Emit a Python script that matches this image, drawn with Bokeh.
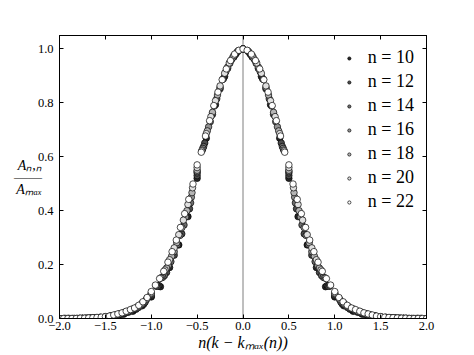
from bokeh.plotting import figure
from bokeh.models import Range1d, Span, LinearAxis, FixedTicker, CustomJSTickFormatter
from bokeh.embed import file_html
from bokeh.resources import INLINE

# ---- data ----
x_ticks = [-2.0, -1.5, -1.0, -0.5, 0.0, 0.5, 1.0, 1.5, 2.0]
y_ticks = [0.0, 0.2, 0.4, 0.6, 0.8, 1.0]

x10 = [-2.0, -1.9, -1.8, -1.7, -1.6, -1.5, -1.4, -1.3, -1.2, -1.1, -1.0, -0.9, -0.8, -0.7, -0.6, -0.5, -0.4, -0.3, -0.2, -0.1,
       0.0, 0.1, 0.2, 0.3, 0.4, 0.5, 0.6, 0.7, 0.8, 0.9, 1.0, 1.1, 1.2, 1.3, 1.4, 1.5, 1.6, 1.7, 1.8, 1.9, 2.0]
y10 = [0.0, 0.0, 0.0, 0.001, 0.002, 0.004, 0.009, 0.016, 0.027, 0.047, 0.080, 0.118, 0.189, 0.273, 0.378, 0.520, 0.669, 0.793, 0.898, 0.970,
       1.000, 0.970, 0.898, 0.793, 0.669, 0.520, 0.378, 0.273, 0.189, 0.118, 0.080, 0.047, 0.027, 0.016, 0.009, 0.004, 0.002, 0.001, 0.0, 0.0, 0.0]

x12 = [-2.0, -1.917, -1.833, -1.75, -1.667, -1.583, -1.5, -1.417, -1.333, -1.25, -1.167, -1.083, -1.0, -0.917, -0.833, -0.75, -0.667, -0.583,
       -0.5, -0.417, -0.333, -0.25, -0.167, -0.083, 0.0, 0.083, 0.167, 0.25, 0.333, 0.417, 0.5, 0.583, 0.667, 0.75, 0.833, 0.917, 1.0,
       1.083, 1.167, 1.25, 1.333, 1.417, 1.5, 1.583, 1.667, 1.75, 1.833, 1.917, 2.0]
y12 = [0.0, 0.0, 0.0, 0.0, 0.001, 0.002, 0.005, 0.009, 0.015, 0.023, 0.034, 0.053, 0.083, 0.122, 0.171, 0.235, 0.314, 0.407, 0.530, 0.651,
       0.757, 0.852, 0.928, 0.979, 1.000, 0.979, 0.928, 0.852, 0.757, 0.651, 0.530, 0.407, 0.314, 0.235, 0.171, 0.122, 0.083, 0.053,
       0.034, 0.023, 0.015, 0.009, 0.005, 0.002, 0.001, 0.0, 0.0, 0.0, 0.0]

x14 = [-2.0, -1.929, -1.857, -1.786, -1.714, -1.643, -1.571, -1.5, -1.429, -1.357, -1.286, -1.214, -1.143, -1.071, -1.0, -0.929, -0.857,
       -0.786, -0.714, -0.643, -0.571, -0.5, -0.429, -0.357, -0.286, -0.214, -0.143, -0.071, 0.0, 0.071, 0.143, 0.214, 0.286, 0.357,
       0.429, 0.5, 0.571, 0.643, 0.714, 0.786, 0.857, 0.929, 1.0, 1.071, 1.143, 1.214, 1.286, 1.357, 1.429, 1.5, 1.571, 1.643, 1.714,
       1.786, 1.857, 1.929, 2.0]
y14 = [0.0, 0.0, 0.0, 0.0, 0.001, 0.002, 0.003, 0.006, 0.009, 0.014, 0.020, 0.029, 0.040, 0.059, 0.086, 0.120, 0.159, 0.211, 0.274,
       0.347, 0.429, 0.540, 0.638, 0.730, 0.815, 0.889, 0.947, 0.985, 1.000, 0.985, 0.947, 0.889, 0.815, 0.730, 0.638, 0.540, 0.429,
       0.347, 0.274, 0.211, 0.159, 0.120, 0.086, 0.059, 0.040, 0.029, 0.020, 0.014, 0.009, 0.006, 0.003, 0.002, 0.001, 0.0, 0.0, 0.0, 0.0]

x16 = [-2.0, -1.938, -1.875, -1.813, -1.75, -1.688, -1.625, -1.563, -1.5, -1.438, -1.375, -1.313, -1.25, -1.188, -1.125, -1.063, -1.0,
       -0.938, -0.875, -0.813, -0.75, -0.688, -0.625, -0.563, -0.5, -0.438, -0.375, -0.313, -0.25, -0.188, -0.125, -0.063, 0.0, 0.063,
       0.125, 0.188, 0.25, 0.313, 0.375, 0.438, 0.5, 0.563, 0.625, 0.688, 0.75, 0.813, 0.875, 0.938, 1.0, 1.063, 1.125, 1.188, 1.25,
       1.313, 1.375, 1.438, 1.5, 1.563, 1.625, 1.688, 1.75, 1.813, 1.875, 1.938, 2.0]
y16 = [0.0, 0.0, 0.0, 0.0, 0.001, 0.001, 0.002, 0.004, 0.006, 0.009, 0.013, 0.019, 0.026, 0.035, 0.046, 0.064, 0.089, 0.120, 0.153,
       0.197, 0.248, 0.308, 0.377, 0.450, 0.545, 0.631, 0.711, 0.788, 0.857, 0.915, 0.960, 0.989, 1.000, 0.989, 0.960, 0.915, 0.857,
       0.788, 0.711, 0.631, 0.545, 0.450, 0.377, 0.308, 0.248, 0.197, 0.153, 0.120, 0.089, 0.064, 0.046, 0.035, 0.026, 0.019, 0.013,
       0.009, 0.006, 0.004, 0.002, 0.001, 0.001, 0.0, 0.0, 0.0, 0.0]

x18 = [-2.0, -1.944, -1.889, -1.833, -1.778, -1.722, -1.667, -1.611, -1.556, -1.5, -1.444, -1.389, -1.333, -1.278, -1.222, -1.167,
       -1.111, -1.056, -1.0, -0.944, -0.889, -0.833, -0.778, -0.722, -0.667, -0.611, -0.556, -0.5, -0.444, -0.389, -0.333, -0.278,
       -0.222, -0.167, -0.111, -0.056, 0.0, 0.056, 0.111, 0.167, 0.222, 0.278, 0.333, 0.389, 0.444, 0.5, 0.556, 0.611, 0.667, 0.722,
       0.778, 0.833, 0.889, 0.944, 1.0, 1.056, 1.111, 1.167, 1.222, 1.278, 1.333, 1.389, 1.444, 1.5, 1.556, 1.611, 1.667, 1.722,
       1.778, 1.833, 1.889, 1.944, 2.0]
y18 = [0.0, 0.0, 0.0, 0.0, 0.001, 0.001, 0.002, 0.003, 0.004, 0.006, 0.009, 0.013, 0.018, 0.024, 0.031, 0.039, 0.052, 0.069, 0.092,
       0.120, 0.151, 0.187, 0.231, 0.281, 0.337, 0.400, 0.467, 0.550, 0.625, 0.696, 0.765, 0.829, 0.887, 0.933, 0.969, 0.991, 1.000,
       0.991, 0.969, 0.933, 0.887, 0.829, 0.765, 0.696, 0.625, 0.550, 0.467, 0.400, 0.337, 0.281, 0.231, 0.187, 0.151, 0.120, 0.092,
       0.069, 0.052, 0.039, 0.031, 0.024, 0.018, 0.013, 0.009, 0.006, 0.004, 0.003, 0.002, 0.001, 0.001, 0.0, 0.0, 0.0, 0.0]

x20 = [-2.0, -1.95, -1.9, -1.85, -1.8, -1.75, -1.7, -1.65, -1.6, -1.55, -1.5, -1.45, -1.4, -1.35, -1.3, -1.25, -1.2, -1.15, -1.1, -1.05,
       -1.0, -0.95, -0.9, -0.85, -0.8, -0.75, -0.7, -0.65, -0.6, -0.55, -0.5, -0.45, -0.4, -0.35, -0.3, -0.25, -0.2, -0.15, -0.1, -0.05,
       0.0, 0.05, 0.1, 0.15, 0.2, 0.25, 0.3, 0.35, 0.4, 0.45, 0.5, 0.55, 0.6, 0.65, 0.7, 0.75, 0.8, 0.85, 0.9, 0.95, 1.0, 1.05, 1.1,
       1.15, 1.2, 1.25, 1.3, 1.35, 1.4, 1.45, 1.5, 1.55, 1.6, 1.65, 1.7, 1.75, 1.8, 1.85, 1.9, 1.95, 2.0]
y20 = [0.0, 0.0, 0.0, 0.0, 0.0, 0.001, 0.001, 0.002, 0.003, 0.004, 0.006, 0.009, 0.012, 0.017, 0.022, 0.028, 0.036, 0.044, 0.057,
       0.073, 0.095, 0.122, 0.150, 0.180, 0.218, 0.262, 0.311, 0.365, 0.423, 0.485, 0.560, 0.622, 0.686, 0.749, 0.808, 0.863, 0.910,
       0.948, 0.976, 0.994, 1.000, 0.994, 0.976, 0.948, 0.910, 0.863, 0.808, 0.749, 0.686, 0.622, 0.560, 0.485, 0.423, 0.365, 0.311,
       0.262, 0.218, 0.180, 0.150, 0.122, 0.095, 0.073, 0.057, 0.044, 0.036, 0.028, 0.022, 0.017, 0.012, 0.009, 0.006, 0.004, 0.003,
       0.002, 0.001, 0.001, 0.0, 0.0, 0.0, 0.0, 0.0]

x22 = [-2.0, -1.955, -1.909, -1.864, -1.818, -1.773, -1.727, -1.682, -1.636, -1.591, -1.545, -1.5, -1.455, -1.409, -1.364, -1.318,
       -1.273, -1.227, -1.182, -1.136, -1.091, -1.045, -1.0, -0.955, -0.909, -0.864, -0.818, -0.773, -0.727, -0.682, -0.636, -0.591,
       -0.545, -0.5, -0.455, -0.409, -0.364, -0.318, -0.273, -0.227, -0.182, -0.136, -0.091, -0.045, 0.0, 0.045, 0.091, 0.136, 0.182,
       0.227, 0.273, 0.318, 0.364, 0.409, 0.455, 0.5, 0.545, 0.591, 0.636, 0.682, 0.727, 0.773, 0.818, 0.864, 0.909, 0.955, 1.0, 1.045,
       1.091, 1.136, 1.182, 1.227, 1.273, 1.318, 1.364, 1.409, 1.455, 1.5, 1.545, 1.591, 1.636, 1.682, 1.727, 1.773, 1.818, 1.864,
       1.909, 1.955, 2.0]
y22 = [0.0, 0.0, 0.0, 0.0, 0.0, 0.001, 0.001, 0.002, 0.003, 0.004, 0.005, 0.007, 0.009, 0.013, 0.017, 0.021, 0.027, 0.033, 0.039,
       0.049, 0.062, 0.078, 0.100, 0.124, 0.148, 0.175, 0.209, 0.248, 0.291, 0.338, 0.389, 0.442, 0.499, 0.570, 0.617, 0.677, 0.734,
       0.790, 0.840, 0.886, 0.926, 0.957, 0.981, 0.995, 1.000, 0.995, 0.981, 0.957, 0.926, 0.886, 0.840, 0.790, 0.734, 0.677, 0.617,
       0.570, 0.499, 0.442, 0.389, 0.338, 0.291, 0.248, 0.209, 0.175, 0.148, 0.124, 0.100, 0.078, 0.062, 0.049, 0.039, 0.033, 0.027,
       0.021, 0.017, 0.013, 0.009, 0.007, 0.005, 0.004, 0.003, 0.002, 0.001, 0.001, 0.0, 0.0, 0.0, 0.0, 0.0]

series_n = [10, 12, 14, 16, 18, 20, 22]
series_x = [x10, x12, x14, x16, x18, x20, x22]
series_y = [y10, y12, y14, y16, y18, y20, y22]
series_fill = ["#262626", "#4d4d4d", "#6e6e6e", "#939393", "#b5b5b5", "#e0e0e0", "#ffffff"]

SERIF = "Liberation Serif"

p = figure(width=474, height=355, output_backend="svg", toolbar_location=None,
           x_range=Range1d(-2, 2), y_range=Range1d(0, 1.05),
           min_border_left=59, min_border_right=48, min_border_top=35, min_border_bottom=37)
p.background_fill_color = "white"
p.border_fill_color = "white"
p.outline_line_color = "black"
p.outline_line_width = 1
p.xgrid.visible = False
p.ygrid.visible = False

fmt = CustomJSTickFormatter(code="return tick.toFixed(1).replace('-', '\\u2212');")
blank = CustomJSTickFormatter(code="return '';")

for ax, ticks in ((p.xaxis[0], x_ticks), (p.yaxis[0], y_ticks)):
    ax.ticker = FixedTicker(ticks=ticks)
    ax.formatter = fmt
    ax.major_tick_in = 4
    ax.major_tick_out = 0
    ax.minor_tick_line_color = None
    ax.axis_line_color = "black"
    ax.major_tick_line_color = "black"
    ax.major_label_text_font = SERIF
    ax.major_label_text_font_size = "12.5px"
    ax.major_label_text_color = "black"
    ax.axis_label_text_font = SERIF
    ax.axis_label_text_color = "black"

p.xaxis.major_label_standoff = 3
p.xaxis.axis_label = "n(k \u2212 k\u2098\u2090\u2093(n))"
p.xaxis.axis_label_text_font_size = "16px"
p.xaxis.axis_label_text_font_style = "italic"
p.xaxis.axis_label_standoff = 1

p.yaxis.major_label_standoff = 6
p.yaxis.axis_label = "A\u2099,\u2099\n\u2015\u2015\nA\u2098\u2090\u2093"
p.yaxis.axis_label_orientation = "horizontal"
p.yaxis.axis_label_text_font_size = "14px"
p.yaxis.axis_label_text_font_style = "italic"
p.yaxis.axis_label_text_line_height = 0.8
p.yaxis.axis_label_standoff = -7

top = LinearAxis(ticker=FixedTicker(ticks=x_ticks), formatter=blank, major_tick_in=4, major_tick_out=0,
                 minor_tick_line_color=None, axis_line_color="black", major_label_standoff=0)
right = LinearAxis(ticker=FixedTicker(ticks=y_ticks), formatter=blank, major_tick_in=4, major_tick_out=0,
                   minor_tick_line_color=None, axis_line_color="black", major_label_standoff=0)
p.add_layout(top, "above")
p.add_layout(right, "right")

p.add_layout(Span(location=0, dimension="height", line_color="#7f7f7f", line_width=1, level="underlay"))

for n, xs, ys, fc in zip(series_n, series_x, series_y, series_fill):
    p.scatter(xs, ys, size=6.5, fill_color=fc, line_color="black", line_width=0.7,
              legend_label="n = %d" % n)

lg = p.legend[0]
lg.location = "top_right"
lg.border_line_color = None
lg.background_fill_alpha = 0
lg.label_text_font = SERIF
lg.label_text_font_size = "18px"
lg.label_text_color = "black"
lg.glyph_width = 8
lg.glyph_height = 8
lg.label_height = 20
lg.spacing = 3
lg.padding = 0
lg.margin = 12
lg.label_standoff = 15

open("out.html", "w").write(file_html(p, INLINE))
